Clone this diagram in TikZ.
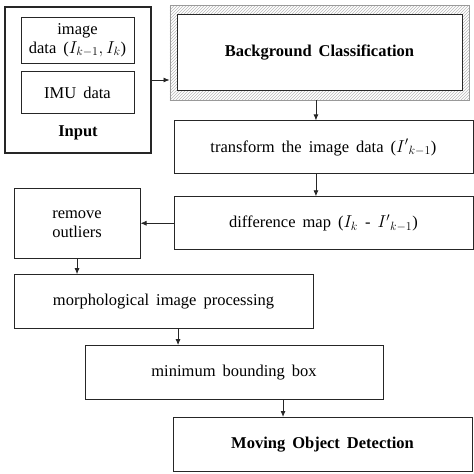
\documentclass[tikz,border=0pt]{standalone}
\usepackage{fontspec}
\setmainfont{Liberation Serif}[WordSpace=1.7]
\usetikzlibrary{positioning,patterns,arrows.meta}

\begin{document}
\begin{tikzpicture}[x=1pt, y=-1pt,
    box/.style={draw=black!85, line width=0.9pt, fill=white, align=center,
      font=\fontsize{16.5}{19}\selectfont, inner sep=0pt},
    wide/.style={box, minimum width=299pt, minimum height=53pt},
    hatch/.style={draw=black!40, line width=0.8pt, pattern=north east lines,
      pattern color=black!28, inner sep=0pt},
    arr/.style={-{Latex[length=6pt,width=5pt]}, line width=0.8pt, black!85}]

  \useasboundingbox (0,0) rectangle (474,474);

  % Define nodes
  \node[box, line width=1.1pt, minimum width=146pt, minimum height=146pt] (input) at (78,80) {};
  \node[box, minimum width=113pt, minimum height=46pt] (imgdata) at (77.5,40) {image\\data ($I_{k-1}, I_k$)};
  \node[box, minimum width=113pt, minimum height=42pt, below=8pt of imgdata] (imu) {IMU data};
  \node[font=\fontsize{16.5}{19}\selectfont\bfseries] (inlabel) at (78,133) {Input};

  \node[hatch, minimum width=299pt, minimum height=95pt, right=18pt of input, yshift=27.5pt] (bghatch) {};
  \node[box, minimum width=285pt, minimum height=76pt, font=\fontsize{16.5}{19}\selectfont\bfseries] (bg) at (bghatch.center) {Background Classification};

  \node[wide, below=20pt of bghatch, xshift=4pt] (transform) {transform the image data (${I'}_{k-1}$)};
  \node[wide, below=22pt of transform] (diff) {difference map ($I_k$ - ${I'}_{k-1}$)};
  \node[box, minimum width=126pt, minimum height=70pt, left=33pt of diff, yshift=-0.5pt] (remove) {remove\\outliers};
  \node[wide, minimum height=54pt, below=15pt of remove.south west, anchor=north west] (morph) {morphological image processing};
  \node[wide, minimum width=298pt, minimum height=54pt, below=16pt of morph, xshift=70.5pt] (minbb) {minimum bounding box};
  \node[wide, minimum height=54pt, below=17pt of minbb, xshift=88.5pt, font=\fontsize{16.5}{19}\selectfont\bfseries] (mod) {Moving Object Detection};

  % Connect the nodes
  \draw[arr] (input.east) -- (input.east -| bghatch.west);
  \draw[arr] ([xshift=-3.5pt]bghatch.south) -- ([xshift=-3.5pt]bghatch.south |- transform.north);
  \draw[arr] ([xshift=-7.5pt]transform.south) -- ([xshift=-7.5pt]diff.north);
  \draw[arr] (diff.west) -- (diff.west -| remove.east);
  \draw[arr] (remove.south) -- (remove.south |- morph.north);
  \draw[arr] ([xshift=14.5pt]morph.south) -- ([xshift=14.5pt]morph.south |- minbb.north);
  \draw[arr] ([xshift=49pt]minbb.south) -- ([xshift=49pt]minbb.south |- mod.north);

\end{tikzpicture}
\end{document}
